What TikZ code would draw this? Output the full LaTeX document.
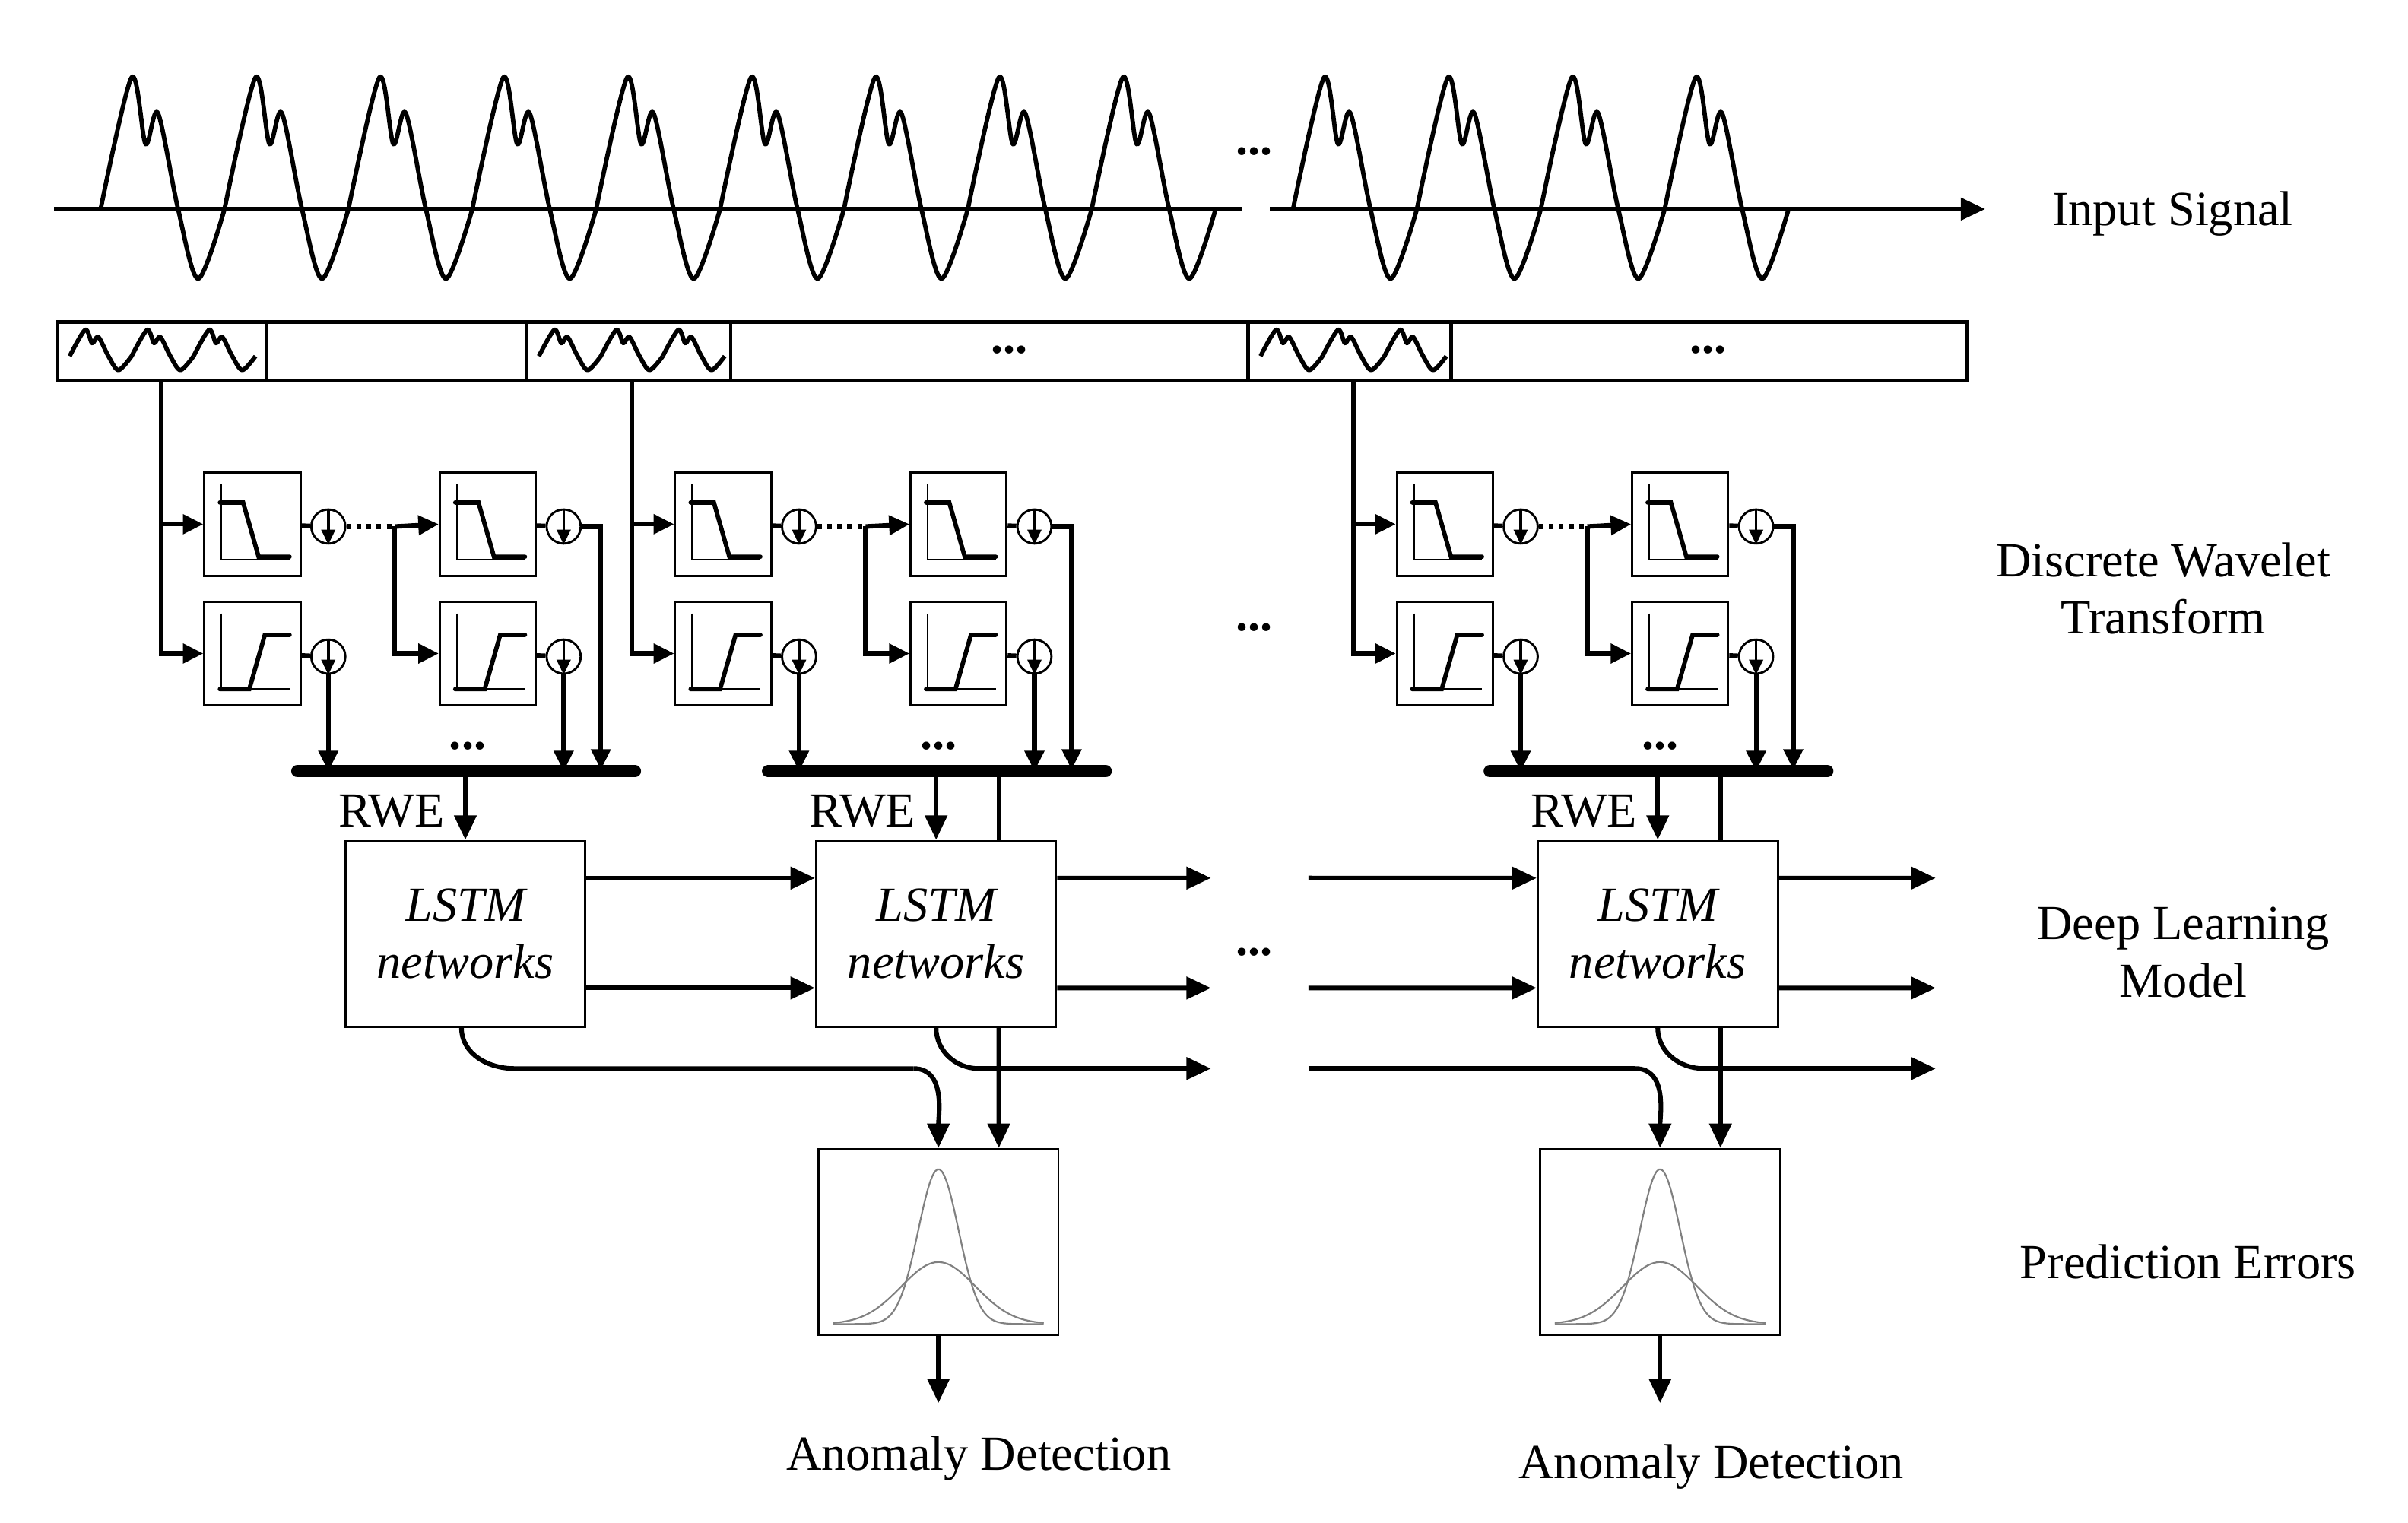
\documentclass[tikz,border=0pt]{standalone}
\usepackage{fontspec}
\setmainfont{Liberation Serif}
\usetikzlibrary{positioning}
\usetikzlibrary{calc}
\usetikzlibrary{arrows.meta}

% one period of the signal, (x0,y0) = rising zero crossing
\newcommand\sigper[4]{%
  \draw[sig] plot[smooth] coordinates {(#1,#2) ({#1+20*#3},{#2-85*#4}) ({#1+29*#3},{#2-42*#4})
    ({#1+37*#3},{#2-62*#4}) ({#1+50*#3},{#2}) ({#1+63*#3},{#2+45*#4}) ({#1+80*#3},{#2})};}

\begin{document}
\begin{tikzpicture} [x=0.02cm,y=-0.02cm,
            sig/.style={line width=1.6pt,line join=round},
            wire/.style={line width=1.7pt},
            outpt/.style={wire,-{Triangle[length=9pt,width=8pt]}},
            small/.style={wire,-{Triangle[length=7.5pt,width=7pt]}},
            filt/.style={draw,line width=0.8pt,minimum width=1.24cm,minimum height=1.34cm,inner sep=0pt},
            dsmp/.style={draw,circle,line width=0.8pt,minimum size=0.44cm,inner sep=0pt},
            blk/.style={draw,line width=0.8pt,minimum width=3.1cm,minimum height=2.4cm,align=center,inner sep=0pt},
            lbl/.style={font=\fontsize{18}{21}\selectfont,align=center},
         every node/.append style={align=center}]
\useasboundingbox (0,0) rectangle (1555,983);

%input signal
\draw[wire] (35,135) -- (802,135);
\draw[outpt] (820,135) -- (1282,135);
\foreach \k in {0,...,8} {\sigper{65+80*\k}{135}{1}{1}}
\foreach \k in {0,...,3} {\sigper{835+80*\k}{135}{1}{1}}
\node[lbl] (dots0) at (810,98) {\textbf{...}};
\node[lbl] (insig) at (1403,138) {Input Signal};

%windows
\draw[line width=1.2pt] (37,208) rectangle (1270,246);
\foreach \xa in {172,340,472,806,937}
   \draw[line width=1.2pt] (\xa,208) -- (\xa,246);
\foreach \xs in {45,348,814} {
   \foreach \k in {0,1,2} {\sigper{\xs+40*\k}{230}{0.5}{0.2}}
}
\node[lbl] (wdots1) at (652,226) {\textbf{...}};
\node[lbl] (wdots2) at (1103,226) {\textbf{...}};

%DWT + RWE groups
\foreach \g/\bx in {1/104,2/408,3/874} {
   \coordinate (t\g) at (\bx,246);
   \node[filt] (lp\g)  at (\bx+59,338.5) {};
   \node[filt] (hp\g)  at (\bx+59,422) {};
   \node[filt] (lpb\g) at (\bx+211,338.5) {};
   \node[filt] (hpb\g) at (\bx+211,422) {};
   \node[dsmp] (da\g) at (\bx+108,340) {};
   \node[dsmp] (db\g) at (\bx+108,424) {};
   \node[dsmp] (dc\g) at (\bx+260,340) {};
   \node[dsmp] (dd\g) at (\bx+260,424) {};
   \foreach \d in {da,db,dc,dd}
      \draw[line width=1pt,-{Triangle[length=5.5pt,width=5pt]}] (\d\g.north) -- (\d\g.south);
   % filter icons
   \foreach \f in {lp,lpb} {
      \draw[line width=0.6pt] ($(\f\g.center)+(-20,-26)$) -- ($(\f\g.center)+(-20,23)$) -- ($(\f\g.center)+(24,23)$);
      \draw[line width=1.6pt,line cap=round] ($(\f\g.center)+(-21,-14)$) -- ($(\f\g.center)+(-6,-14)$)
         -- ($(\f\g.center)+(4,21)$) -- ($(\f\g.center)+(24,21)$);
   }
   \foreach \f in {hp,hpb} {
      \draw[line width=0.6pt] ($(\f\g.center)+(-20,-26)$) -- ($(\f\g.center)+(-20,23)$) -- ($(\f\g.center)+(24,23)$);
      \draw[line width=1.6pt,line cap=round] ($(\f\g.center)+(-21,23)$) -- ($(\f\g.center)+(-2,23)$)
         -- ($(\f\g.center)+(8,-12)$) -- ($(\f\g.center)+(24,-12)$);
   }
   \draw[small] (t\g) |- (lp\g.west);
   \draw[small] (t\g) |- (hp\g.west);
   \draw[wire] (lp\g) -- (da\g);
   \draw[wire] (hp\g) -- (db\g);
   \coordinate (j\g) at (\bx+151,340);
   \draw[line width=1.7pt,dotted] (da\g.east) -- (j\g);
   \draw[small] (j\g) -- (lpb\g.west);
   \draw[small] (j\g) |- (hpb\g.west);
   \draw[wire] (lpb\g) -- (dc\g);
   \draw[wire] (hpb\g) -- (dd\g);
   % bus
   \coordinate (busl\g) at (\bx+88,498);
   \coordinate (busr\g) at (\bx+306,498);
   \draw[line width=4.5pt,line cap=round] (busl\g) -- (busr\g);
   \node[lbl] (bdots\g) at (\bx+198,482) {\textbf{...}};
   \draw[small] (db\g.south) -- (db\g.south |- busl\g);
   \draw[small] (dd\g.south) -- (dd\g.south |- busl\g);
   \coordinate (bk\g) at (\bx+284,497);
   \draw[small] (dc\g.east) -| (bk\g);
   % lstm
   \node[blk,font=\fontsize{18}{21}\selectfont\itshape] (l\g) at (\bx+196.5,603) {LSTM\\networks};
   \draw[outpt] (l\g.north |- busl\g) -- (l\g.north);
   \node[lbl] (rwe\g) at (\bx+149,524) {RWE};
}
\node[lbl] (ddots) at (810,405) {\textbf{...}};
\node[lbl] (dwt) at (1397,380) {Discrete Wavelet\\Transform};

%LSTM chain
\coordinate (o2a) at (782,567);
\coordinate (o2b) at (782,638);
\coordinate (o2c) at (782,690);
\coordinate (i3a) at (845,567);
\coordinate (i3b) at (845,638);
\coordinate (i3c) at (845,690);
\coordinate (o3a) at (1250,567);
\coordinate (o3b) at (1250,638);
\coordinate (o3c) at (1250,690);
\draw[outpt] ([yshift=0.72cm]l1.east) -- ([yshift=0.72cm]l2.west);
\draw[outpt] ([yshift=-0.7cm]l1.east) -- ([yshift=-0.7cm]l2.west);
\draw[outpt] ([yshift=0.72cm]l2.east) -- (o2a);
\draw[outpt] ([yshift=-0.7cm]l2.east) -- (o2b);
\draw[outpt] (i3a) -- ([yshift=0.72cm]l3.west);
\draw[outpt] (i3b) -- ([yshift=-0.7cm]l3.west);
\draw[outpt] ([yshift=0.72cm]l3.east) -- (o3a);
\draw[outpt] ([yshift=-0.7cm]l3.east) -- (o3b);
\node[lbl] (ldots) at (810,615) {\textbf{...}};
\node[lbl] (dlm) at (1410,615) {Deep Learning\\Model};

%prediction errors
\node[blk] (pe1) at (606,802) {};
\node[blk] (pe2) at (1072,802) {};
\foreach \cx in {606,1072} {
   \draw[gray,line width=0.6pt] plot[domain=-68:68,samples=90]
      ({\cx+\x},{855-100*exp(-((\x/13)^2)/2)});
   \draw[gray,line width=0.6pt] plot[domain=-68:68,samples=90]
      ({\cx+\x},{855-40*exp(-((\x/24)^2)/2)});
}
\draw[wire] ([xshift=-0.05cm]l1.south) to[out=-90,in=180] (332,690) -- (590,690);
\draw[outpt] (590,690) to[out=0,in=90] (pe1.north);
\draw[wire] (l2.south) to[out=-90,in=180] (632,690);
\draw[outpt] (632,690) -- (o2c);
\draw[wire] (i3c) -- (1056,690);
\draw[outpt] (1056,690) to[out=0,in=90] (pe2.north);
\draw[wire] (l3.south) to[out=-90,in=180] (1100,690);
\draw[outpt] (1100,690) -- (o3c);
% pass-through lines
\draw[wire] (645,498) -- (645,543);
\draw[outpt] (645,663) -- ([xshift=0.78cm]pe1.north);
\draw[wire] (1111,498) -- (1111,543);
\draw[outpt] (1111,663) -- ([xshift=0.78cm]pe2.north);
\node[lbl] (perr) at (1413,815) {Prediction Errors};

%anomaly detection
\coordinate (a1) at (606,906);
\coordinate (a2) at (1072,906);
\draw[outpt] (pe1.south) -- (a1);
\draw[outpt] (pe2.south) -- (a2);
\node[lbl] (an1) at (632,942) {Anomaly Detection};
\node[lbl] (an2) at (1105,947) {Anomaly Detection};
\end{tikzpicture}
\end{document}
